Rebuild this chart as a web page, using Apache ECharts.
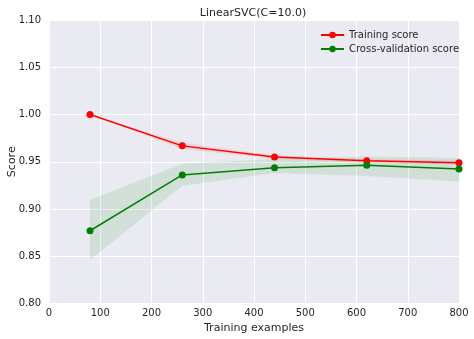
<!DOCTYPE html>
<html><head><meta charset="utf-8">
<script src="https://cdn.jsdelivr.net/npm/echarts@6/dist/echarts.min.js"></script>
<style>html,body{margin:0;padding:0;background:#fff}#c{width:474px;height:339px}</style>
</head><body><div id="c"></div>
<script>
const trainSizes = [80, 260, 440, 620, 800];
const trainScore = [1.000, 0.9668, 0.955, 0.951, 0.949];
const trainLower = [1.000, 0.9635, 0.953, 0.949, 0.947];
const trainUpper = [1.000, 0.970, 0.957, 0.953, 0.951];
const cvScore = [0.877, 0.936, 0.9436, 0.9464, 0.9422];
const cvLower = [0.846, 0.9245, 0.938, 0.935, 0.929];
const cvUpper = [0.9094, 0.948, 0.953, 0.9555, 0.954];
const xTicks = [0, 100, 200, 300, 400, 500, 600, 700, 800];
const yTicks = [0.80, 0.85, 0.90, 0.95, 1.00, 1.05, 1.10];

const pair = arr => arr.map((v, i) => [trainSizes[i], v]);
const txt = '#262626';
const font = 'DejaVu Sans';

function bandSeries(lower, upper, fill, z) {
  const data = trainSizes.map((x, i) => [x, lower[i], upper[i]]);
  return {
    type: 'custom', silent: true, z: z,
    data: data,
    encode: {x: 0, y: [1, 2]},
    renderItem: function (params, api) {
      if (params.dataIndex !== 0) return null;
      const top = data.map(d => api.coord([d[0], d[2]]));
      const bot = data.map(d => api.coord([d[0], d[1]])).reverse();
      return {type: 'polygon', shape: {points: top.concat(bot)}, style: {fill: fill}};
    }
  };
}

const chart = echarts.init(document.getElementById('c'));
chart.setOption({
  backgroundColor: '#ffffff',
  animation: false,
  title: {
    text: 'LinearSVC(C=10.0)', left: 248, top: 3, textAlign: 'center',
    textStyle: {fontFamily: font, fontSize: 11, fontWeight: 'normal', color: txt}
  },
  legend: {
    data: ['Training score', 'Cross-validation score'],
    orient: 'vertical', left: 315, top: 25, itemGap: 4, itemWidth: 23, itemHeight: 8,
    textStyle: {fontFamily: font, fontSize: 10, color: txt}
  },
  grid: {left: 49, right: 15, top: 20, bottom: 35.5, show: true, backgroundColor: '#EAEAF2', borderWidth: 0,
         containLabel: false, outerBoundsMode: 'none'},
  xAxis: {
    type: 'value', min: xTicks[0], max: xTicks[xTicks.length - 1], interval: 100,
    name: 'Training examples', nameLocation: 'middle', nameGap: 19, nameMoveOverlap: false,
    nameTextStyle: {fontFamily: font, fontSize: 11, color: txt},
    axisLine: {show: false}, axisTick: {show: false},
    axisLabel: {fontFamily: font, fontSize: 10, color: txt, margin: 5},
    splitLine: {show: true, lineStyle: {color: '#ffffff', width: 1}}
  },
  yAxis: {
    type: 'value', min: yTicks[0], max: yTicks[yTicks.length - 1], interval: 0.05,
    name: 'Score', nameLocation: 'middle', nameGap: 31, nameMoveOverlap: false,
    nameTextStyle: {fontFamily: font, fontSize: 11, color: txt},
    axisLine: {show: false}, axisTick: {show: false},
    axisLabel: {fontFamily: font, fontSize: 10, color: txt, margin: 8, formatter: v => v.toFixed(2)},
    splitLine: {show: true, lineStyle: {color: '#ffffff', width: 1}}
  },
  series: [
    bandSeries(trainLower, trainUpper, 'rgba(255,0,0,0.1)', 1),
    bandSeries(cvLower, cvUpper, 'rgba(0,128,0,0.1)', 2),
    {name: 'Training score', type: 'line', data: pair(trainScore), color: '#ff0000',
     symbol: 'circle', symbolSize: 7, lineStyle: {width: 1.5, color: '#ff0000'}, itemStyle: {color: '#ff0000'}, z: 5},
    {name: 'Cross-validation score', type: 'line', data: pair(cvScore), color: '#008000',
     symbol: 'circle', symbolSize: 7, lineStyle: {width: 1.5, color: '#008000'}, itemStyle: {color: '#008000'}, z: 6}
  ]
});
</script></body></html>
